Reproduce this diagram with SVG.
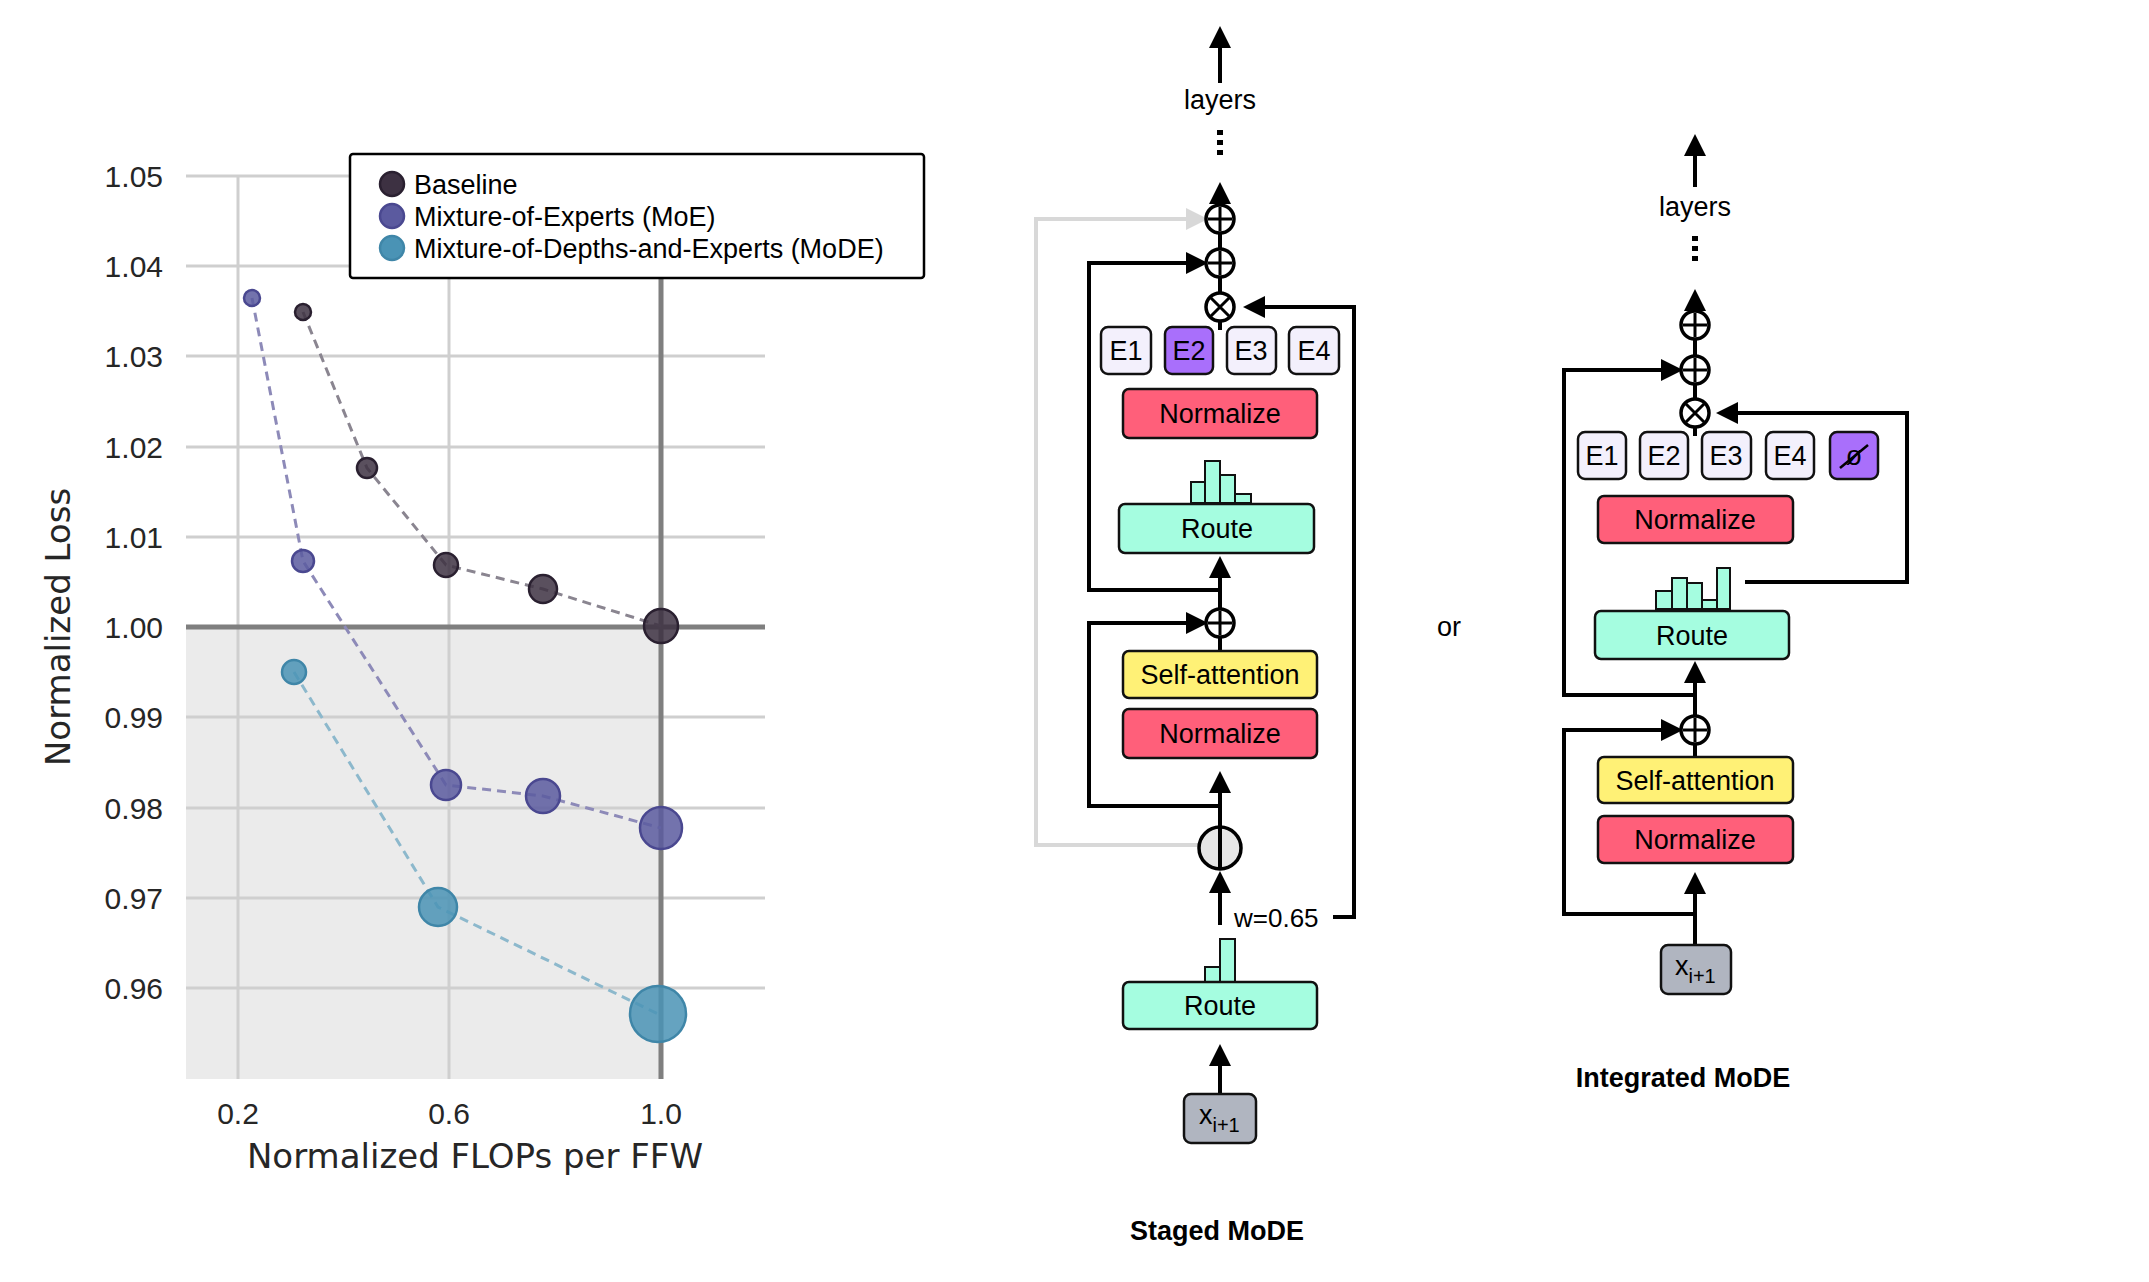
<svg xmlns="http://www.w3.org/2000/svg" width="2149" height="1282" viewBox="0 0 2149 1282">
<defs>
<style>
text{font-family:"Liberation Sans",Arial,sans-serif;}
.tick{font-family:"DejaVu Sans",sans-serif;font-size:30px;fill:#262626;}
.ttl{font-family:"DejaVu Sans",sans-serif;font-size:34px;fill:#262626;}
.grid{stroke:#cfcfcf;stroke-width:3;}
.main{stroke:#7f7f7f;stroke-width:5;}
.w{stroke:#000;stroke-width:4;fill:none;}
.g{stroke:#d8d8d8;stroke-width:4;fill:none;}
.box{stroke:#111;stroke-width:2.5;}
.lbl{font-size:27px;text-anchor:middle;fill:#000;}
.op{fill:#fff;stroke:#000;stroke-width:3.5;}
.bar{fill:#a5fde0;stroke:#111;stroke-width:2;}
</style>
<marker id="ah" markerUnits="userSpaceOnUse" markerWidth="24" markerHeight="24" refX="12" refY="11" orient="auto"><path d="M0,0 L22,11 L0,22 z" fill="#000"/></marker>
<marker id="ahg" markerUnits="userSpaceOnUse" markerWidth="24" markerHeight="24" refX="12" refY="11" orient="auto"><path d="M0,0 L22,11 L0,22 z" fill="#d8d8d8"/></marker>
</defs>

<g id="chart">
<rect x="186" y="627" width="475" height="452" fill="#ebebeb"/>
<g class="grid">
<line x1="186" y1="176" x2="765" y2="176"/><line x1="186" y1="266" x2="765" y2="266"/><line x1="186" y1="356" x2="765" y2="356"/><line x1="186" y1="447" x2="765" y2="447"/><line x1="186" y1="537" x2="765" y2="537"/><line x1="186" y1="717" x2="765" y2="717"/><line x1="186" y1="808" x2="765" y2="808"/><line x1="186" y1="898" x2="765" y2="898"/><line x1="186" y1="988" x2="765" y2="988"/>
<line x1="238" y1="176" x2="238" y2="1079"/><line x1="449" y1="176" x2="449" y2="1079"/>
</g>
<line class="main" x1="186" y1="627" x2="765" y2="627"/><line class="main" x1="661" y1="176" x2="661" y2="1079"/>
<g class="tick" text-anchor="end">
<text x="163" y="187">1.05</text><text x="163" y="277">1.04</text><text x="163" y="367">1.03</text><text x="163" y="458">1.02</text><text x="163" y="548">1.01</text><text x="163" y="638">1.00</text><text x="163" y="728">0.99</text><text x="163" y="819">0.98</text><text x="163" y="909">0.97</text><text x="163" y="999">0.96</text>
</g>
<g class="tick" text-anchor="middle"><text x="238" y="1124">0.2</text><text x="449" y="1124">0.6</text><text x="661" y="1124">1.0</text></g>
<text class="ttl" x="475" y="1168" text-anchor="middle">Normalized FLOPs per FFW</text>
<text class="ttl" transform="translate(70,627) rotate(-90)" text-anchor="middle">Normalized Loss</text>
<g fill="none" stroke-width="3" stroke-dasharray="9 6">
<polyline points="303,312 367,468 446,565 543,589 661,626" stroke="#8a8590"/>
<polyline points="252,298 303,561 446,785 543,796 661,828" stroke="#8d8ab8"/>
<polyline points="294,672 438,907 658,1014" stroke="#8cb8cc"/>
</g>
<g fill="#3d3142" fill-opacity="0.85" stroke="#2a2030" stroke-width="2.5">
<circle cx="303" cy="312" r="8"/><circle cx="367" cy="468" r="10"/><circle cx="446" cy="565" r="12"/><circle cx="543" cy="589" r="14"/><circle cx="661" cy="626" r="17"/>
</g>
<g fill="#5b5a9f" fill-opacity="0.85" stroke="#4a4890" stroke-width="2.5">
<circle cx="252" cy="298" r="8"/><circle cx="303" cy="561" r="11"/><circle cx="446" cy="785" r="15"/><circle cx="543" cy="796" r="17"/><circle cx="661" cy="828" r="21"/>
</g>
<g fill="#4a93b5" fill-opacity="0.85" stroke="#3f86a8" stroke-width="2.5">
<circle cx="294" cy="672" r="12"/><circle cx="438" cy="907" r="19"/><circle cx="658" cy="1014" r="28"/>
</g>
<g id="legend">
<rect x="350" y="154" width="574" height="124" fill="#fff" stroke="#000" stroke-width="2.5" rx="3"/>
<circle cx="392" cy="184" r="12" fill="#3d3142" stroke="#2a2030" stroke-width="2.5"/>
<circle cx="392" cy="216" r="12" fill="#5b5a9f" stroke="#4a4890" stroke-width="2.5"/>
<circle cx="392" cy="248" r="12" fill="#4a93b5" stroke="#3f86a8" stroke-width="2.5"/>
<g font-size="27" fill="#000"><text x="414" y="194">Baseline</text><text x="414" y="226">Mixture-of-Experts (MoE)</text><text x="414" y="258">Mixture-of-Depths-and-Experts (MoDE)</text></g>
</g>
</g>

<g id="connectors">
<path class="w" d="M1220,83 V36" marker-end="url(#ah)"/>
<path class="w" d="M1220,205 V192" marker-end="url(#ah)"/>
<line class="w" x1="1220" y1="233" x2="1220" y2="249"/>
<line class="w" x1="1220" y1="277" x2="1220" y2="293"/>
<line class="w" x1="1220" y1="321" x2="1220" y2="330"/>
<path class="w" d="M1220,609 V566" marker-end="url(#ah)"/>
<path class="w" d="M1220,590 H1089 V263 H1198" marker-end="url(#ah)"/>
<line class="w" x1="1220" y1="637" x2="1220" y2="651"/>
<path class="w" d="M1220,806 H1089 V623 H1198" marker-end="url(#ah)"/>
<path class="w" d="M1220,869 V781" marker-end="url(#ah)"/>
<path class="g" d="M1199,845 H1036 V219 H1198" marker-end="url(#ahg)"/>
<path class="w" d="M1220,925 V881" marker-end="url(#ah)"/>
<path class="w" d="M1333,917 H1354 V307 H1253" marker-end="url(#ah)"/>
<path class="w" d="M1220,1094 V1054" marker-end="url(#ah)"/>

<path class="w" d="M1695,187 V144" marker-end="url(#ah)"/>
<path class="w" d="M1695,311 V299" marker-end="url(#ah)"/>
<line class="w" x1="1695" y1="339" x2="1695" y2="356"/>
<line class="w" x1="1695" y1="384" x2="1695" y2="399"/>
<line class="w" x1="1695" y1="427" x2="1695" y2="436"/>
<path class="w" d="M1745,582 H1907 V413 H1726" marker-end="url(#ah)"/>
<path class="w" d="M1695,716 V671" marker-end="url(#ah)"/>
<path class="w" d="M1695,695 H1564 V370 H1673" marker-end="url(#ah)"/>
<line class="w" x1="1695" y1="744" x2="1695" y2="757"/>
<path class="w" d="M1695,914 H1564 V730 H1673" marker-end="url(#ah)"/>
<path class="w" d="M1695,945 V882" marker-end="url(#ah)"/>
</g>

<g id="staged">
<text x="1220" y="109" class="lbl" font-size="26">layers</text>
<g fill="#000"><rect x="1217" y="130" width="6" height="5"/><rect x="1217" y="140" width="6" height="5"/><rect x="1217" y="150" width="6" height="5"/></g>
<g id="s-add3"><circle class="op" cx="1220" cy="219" r="14"/><path d="M1208,219 H1232 M1220,207 V231" stroke="#000" stroke-width="3"/></g>
<g id="s-add2"><circle class="op" cx="1220" cy="263" r="14"/><path d="M1208,263 H1232 M1220,251 V275" stroke="#000" stroke-width="3"/></g>
<g id="s-mul"><circle class="op" cx="1220" cy="307" r="14"/><path d="M1211,298 L1229,316 M1229,298 L1211,316" stroke="#000" stroke-width="3"/></g>
<g id="s-e1"><rect class="box" x="1101" y="327" width="50" height="47" rx="7" fill="#f3f0fc"/><text class="lbl" x="1126" y="360">E1</text></g>
<g id="s-e2"><rect class="box" x="1165" y="327" width="48" height="47" rx="7" fill="#a96ffb"/><text class="lbl" x="1189" y="360">E2</text></g>
<g id="s-e3"><rect class="box" x="1227" y="327" width="49" height="47" rx="7" fill="#f3f0fc"/><text class="lbl" x="1251" y="360">E3</text></g>
<g id="s-e4"><rect class="box" x="1289" y="327" width="50" height="47" rx="7" fill="#f3f0fc"/><text class="lbl" x="1314" y="360">E4</text></g>
<g id="s-norm1"><rect class="box" x="1123" y="389" width="194" height="49" rx="6" fill="#ff5f7a"/><text class="lbl" x="1220" y="423">Normalize</text></g>
<g id="s-hist1"><rect class="bar" x="1191" y="482" width="14" height="21"/><rect class="bar" x="1205" y="461" width="15" height="42"/><rect class="bar" x="1220" y="475" width="15" height="28"/><rect class="bar" x="1235" y="494" width="16" height="9"/></g>
<g id="s-route1"><rect class="box" x="1119" y="504" width="195" height="49" rx="6" fill="#a5fde0"/><text class="lbl" x="1217" y="538">Route</text></g>
<g id="s-add1"><circle class="op" cx="1220" cy="623" r="14"/><path d="M1208,623 H1232 M1220,611 V635" stroke="#000" stroke-width="3"/></g>
<g id="s-attn"><rect class="box" x="1123" y="651" width="194" height="47" rx="6" fill="#fff176"/><text class="lbl" x="1220" y="684">Self-attention</text></g>
<g id="s-norm2"><rect class="box" x="1123" y="709" width="194" height="49" rx="6" fill="#ff5f7a"/><text class="lbl" x="1220" y="743">Normalize</text></g>
<g id="s-gate"><circle cx="1220" cy="848" r="21" fill="#e6e6e6" stroke="#000" stroke-width="3.5"/><line x1="1220" y1="827" x2="1220" y2="869" stroke="#000" stroke-width="4"/></g>
<text x="1234" y="927" font-size="26" fill="#000">w=0.65</text>
<g id="s-hist2"><rect class="bar" x="1205" y="967" width="15" height="15"/><rect class="bar" x="1220" y="939" width="15" height="43"/></g>
<g id="s-route2"><rect class="box" x="1123" y="982" width="194" height="47" rx="6" fill="#a5fde0"/><text class="lbl" x="1220" y="1015">Route</text></g>
<g id="s-x"><rect class="box" x="1184" y="1094" width="72" height="49" rx="7" fill="#b0b5c0"/><text x="1199" y="1124" font-size="27">x<tspan font-size="20" dy="8">i+1</tspan></text></g>
<text x="1217" y="1240" class="lbl" font-size="25" font-weight="bold">Staged MoDE</text>
</g>

<text id="or" x="1449" y="636" class="lbl" font-size="26">or</text>

<g id="integrated">
<text x="1695" y="216" class="lbl" font-size="26">layers</text>
<g fill="#000"><rect x="1692" y="236" width="6" height="5"/><rect x="1692" y="246" width="6" height="5"/><rect x="1692" y="256" width="6" height="5"/></g>
<g id="i-add3"><circle class="op" cx="1695" cy="325" r="14"/><path d="M1683,325 H1707 M1695,313 V337" stroke="#000" stroke-width="3"/></g>
<g id="i-add2"><circle class="op" cx="1695" cy="370" r="14"/><path d="M1683,370 H1707 M1695,358 V382" stroke="#000" stroke-width="3"/></g>
<g id="i-mul"><circle class="op" cx="1695" cy="413" r="14"/><path d="M1686,404 L1704,422 M1704,404 L1686,422" stroke="#000" stroke-width="3"/></g>
<g id="i-e1"><rect class="box" x="1578" y="432" width="48" height="47" rx="7" fill="#f3f0fc"/><text class="lbl" x="1602" y="465">E1</text></g>
<g id="i-e2"><rect class="box" x="1640" y="432" width="48" height="47" rx="7" fill="#f3f0fc"/><text class="lbl" x="1664" y="465">E2</text></g>
<g id="i-e3"><rect class="box" x="1702" y="432" width="49" height="47" rx="7" fill="#f3f0fc"/><text class="lbl" x="1726" y="465">E3</text></g>
<g id="i-e4"><rect class="box" x="1766" y="432" width="48" height="47" rx="7" fill="#f3f0fc"/><text class="lbl" x="1790" y="465">E4</text></g>
<g id="i-null"><rect class="box" x="1830" y="432" width="48" height="47" rx="7" fill="#a96ffb"/><text class="lbl" x="1854" y="465">ø</text><line x1="1840" y1="468" x2="1868" y2="445" stroke="#000" stroke-width="2.5"/></g>
<g id="i-norm1"><rect class="box" x="1598" y="496" width="195" height="47" rx="6" fill="#ff5f7a"/><text class="lbl" x="1695" y="529">Normalize</text></g>
<g id="i-hist"><rect class="bar" x="1656" y="591" width="16" height="18"/><rect class="bar" x="1672" y="578" width="15" height="31"/><rect class="bar" x="1687" y="583" width="15" height="26"/><rect class="bar" x="1702" y="600" width="15" height="9"/><rect class="bar" x="1717" y="568" width="13" height="41"/></g>
<g id="i-route"><rect class="box" x="1595" y="611" width="194" height="48" rx="6" fill="#a5fde0"/><text class="lbl" x="1692" y="645">Route</text></g>
<g id="i-add1"><circle class="op" cx="1695" cy="730" r="14"/><path d="M1683,730 H1707 M1695,718 V742" stroke="#000" stroke-width="3"/></g>
<g id="i-attn"><rect class="box" x="1598" y="757" width="195" height="46" rx="6" fill="#fff176"/><text class="lbl" x="1695" y="790">Self-attention</text></g>
<g id="i-norm2"><rect class="box" x="1598" y="816" width="195" height="47" rx="6" fill="#ff5f7a"/><text class="lbl" x="1695" y="849">Normalize</text></g>
<g id="i-x"><rect class="box" x="1661" y="945" width="70" height="49" rx="7" fill="#b0b5c0"/><text x="1675" y="975" font-size="27">x<tspan font-size="20" dy="8">i+1</tspan></text></g>
<text x="1683" y="1087" class="lbl" font-size="25" font-weight="bold">Integrated MoDE</text>
</g>
</svg>
